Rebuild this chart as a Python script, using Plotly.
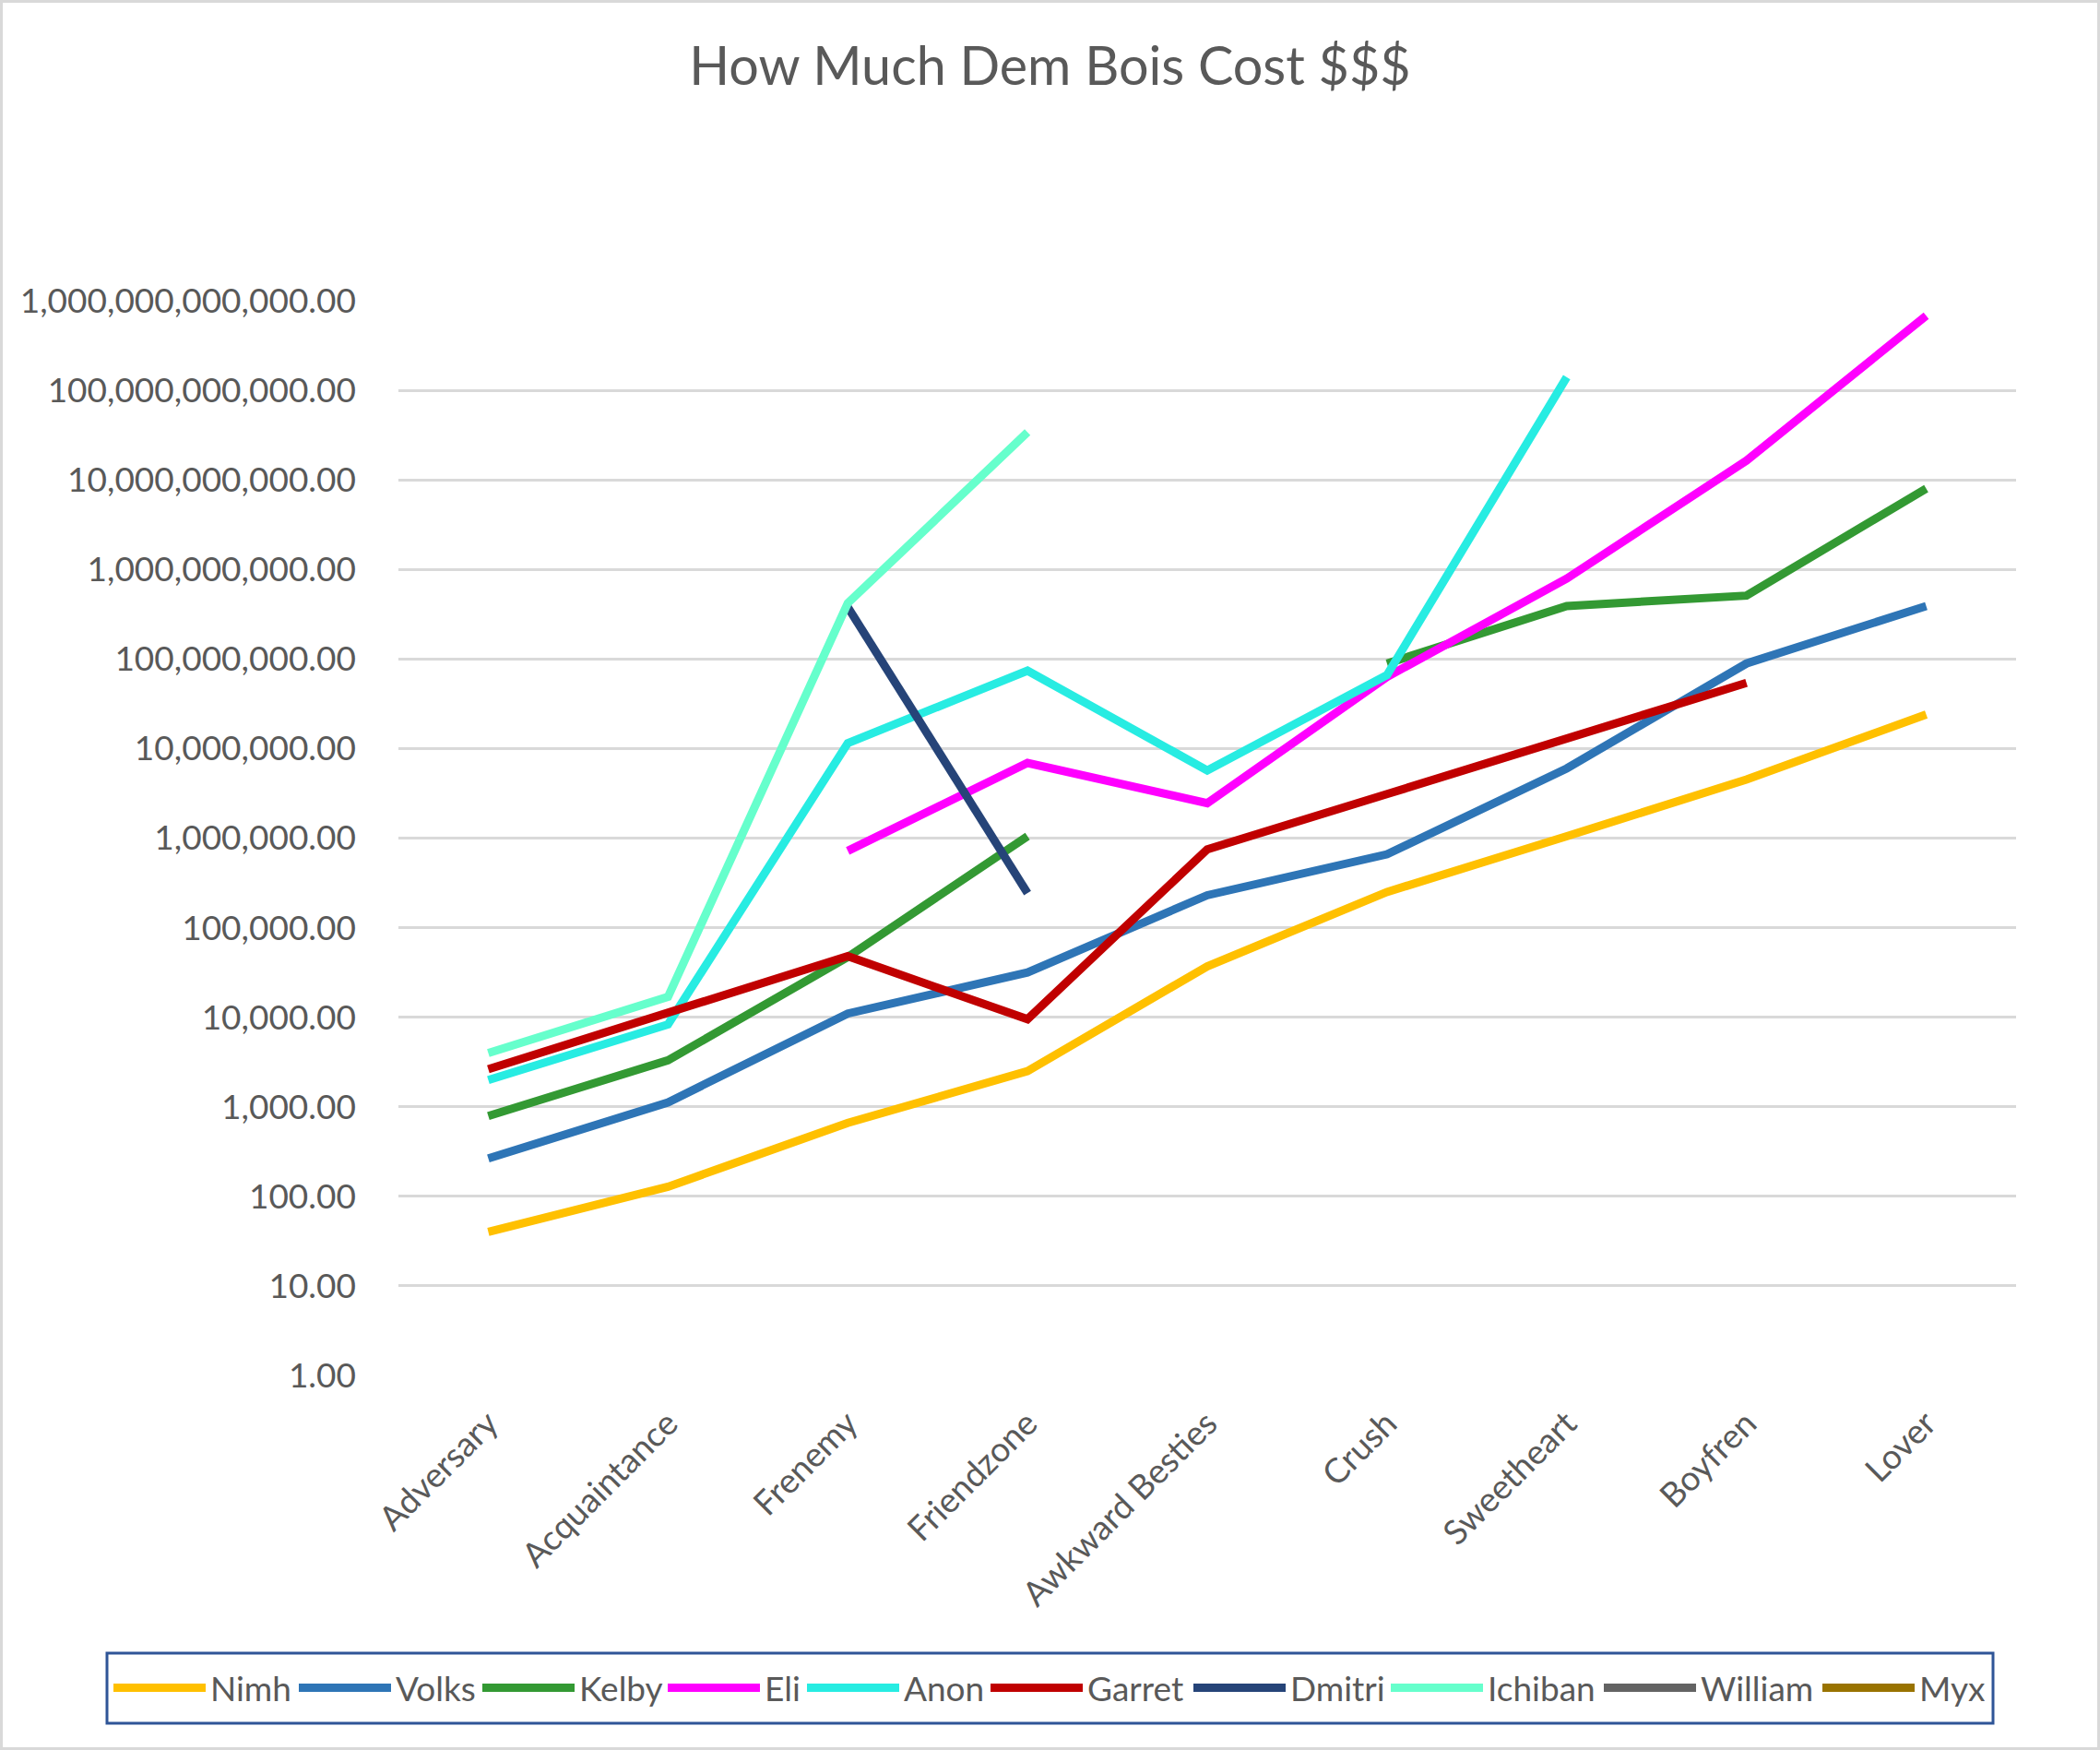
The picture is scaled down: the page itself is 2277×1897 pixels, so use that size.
import plotly.graph_objects as go

# category axis + series values (None = no point)
STAGES = ["Adversary", "Acquaintance", "Frenemy", "Friendzone", "Awkward Besties",
          "Crush", "Sweetheart", "Boyfren", "Lover"]

NIMH = [40, 128, 660, 2500, 37000, 250000, 1.05e6, 4.5e6, 2.4e7]
VOLKS = [265, 1120, 11000, 31600, 230000, 660000, 6.0e6, 8.9e7, 3.9e8]
KELBY = [790, 3300, 47000, 1.05e6, None, 8.9e7, 3.9e8, 5.1e8, 8.0e9]
ELI = [None, None, 720000, 6.9e6, 2.45e6, 6.3e7, 7.9e8, 1.64e10, 6.8e11]
ANON = [1990, 8300, 1.15e7, 7.4e7, 5.7e6, 6.6e7, 1.4e11, None, None]
GARRET = [2630, 11200, 48000, 9500, 7.5e5, 3.1e6, 1.3e7, 5.4e7, None]
DMITRI = [None, None, 3.8e8, 2.43e5, None, None, None, None, None]
ICHIBAN = [3980, 16900, 4.2e8, 3.4e10, None, None, None, None, None]
WILLIAM = [None] * 9
MYX = [None] * 9

# name, values, colour, legend text width (px)
SERIES = [
    ("Nimh", NIMH, "#FFC000", 86),
    ("Volks", VOLKS, "#2E75B6", 84),
    ("Kelby", KELBY, "#339933", 86),
    ("Eli", ELI, "#FF00FF", 36),
    ("Anon", ANON, "#27ECE2", 84),
    ("Garret", GARRET, "#C00000", 105),
    ("Dmitri", DMITRI, "#264478", 99),
    ("Ichiban", ICHIBAN, "#66FFCC", 116),
    ("William", WILLIAM, "#636363", 122),
    ("Myx", MYX, "#997300", 66),
]

W, H = 2277, 1897
L, R, T, B = 432, 91, 326, 406
FONT = "Lato, 'Open Sans', sans-serif"
GREY = "#595959"


def px_to_paper_x(px):
    return (px - L) / (W - L - R)


def px_to_paper_y(py):
    return (H - B - py) / (H - T - B)


fig = go.Figure()
for name, vals, color, lw in SERIES:
    fig.add_trace(go.Scatter(
        x=STAGES,
        y=vals,
        name=name,
        mode="lines",
        line={"color": color, "width": 9},
        connectgaps=False,
        legendwidth=lw,
    ))

fig.update_layout(
    width=W,
    height=H,
    margin={"l": L, "r": R, "t": T, "b": B},
    paper_bgcolor="white",
    plot_bgcolor="white",
    font={"family": FONT, "color": GREY, "size": 37},
    title={
        "text": "How Much Dem Bois Cost $$$",
        "x": 0.5,
        "xanchor": "center",
        "y": 1 - 72 / H,
        "yanchor": "middle",
        "font": {"size": 57.5, "color": GREY, "family": FONT},
    },
    showlegend=True,
    legend={
        "orientation": "h",
        "xref": "paper",
        "yref": "paper",
        "x": px_to_paper_x(118),
        "xanchor": "left",
        "y": px_to_paper_y(1830),
        "yanchor": "middle",
        "font": {"size": 37, "color": GREY},
        "borderwidth": 0,
        "bgcolor": "rgba(0,0,0,0)",
        "itemwidth": 100,
    },
    shapes=[
        # outer chart border
        {"type": "rect", "xref": "paper", "yref": "paper",
         "x0": px_to_paper_x(1.5), "x1": px_to_paper_x(W - 1.5),
         "y0": px_to_paper_y(H - 1.5), "y1": px_to_paper_y(1.5),
         "line": {"color": "#D9D9D9", "width": 3}, "layer": "below"},
        # legend box
        {"type": "rect", "xref": "paper", "yref": "paper",
         "x0": px_to_paper_x(116), "x1": px_to_paper_x(2161),
         "y0": px_to_paper_y(1868), "y1": px_to_paper_y(1792),
         "line": {"color": "#2F5597", "width": 3}, "layer": "below"},
    ],
)

fig.update_xaxes(
    type="category",
    range=[-0.5, len(STAGES) - 0.5],
    showgrid=False,
    showline=False,
    zeroline=False,
    tickangle=-45,
    tickfont={"size": 37, "color": GREY},
    ticks="",
    ticklabelstandoff=22,
)
fig.update_yaxes(
    type="log",
    range=[0, 12],
    dtick=1,
    tickformat=",.2f",
    showgrid=True,
    gridcolor="#D9D9D9",
    gridwidth=3,
    showline=False,
    zeroline=False,
    ticks="",
    ticklabelstandoff=45,
    tickfont={"size": 37, "color": GREY},
)

# drop the default 8px body margin so the figure sits at the page origin
fig.write_html(
    "out.html",
    config={"displayModeBar": False},
    post_script="document.body.style.margin='0';",
)
